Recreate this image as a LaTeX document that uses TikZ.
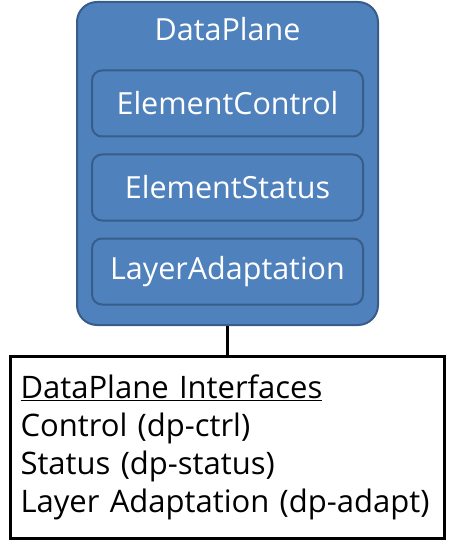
\documentclass[tikz,border=0pt]{standalone}
\usepackage{fontspec}
\setmainfont{Open Sans}
\usetikzlibrary{positioning}
\definecolor{dpfill}{HTML}{4F81BD}
\definecolor{dpline}{HTML}{385D8A}

\begin{document}
\begin{tikzpicture}[x=1pt,y=-1pt,
    outerbox/.style={draw=dpline, line width=2pt, fill=dpfill, rounded corners=20pt,
        minimum width=301pt, minimum height=323pt, inner sep=0pt},
    elembox/.style={draw=dpline, line width=2pt, fill=dpfill, rounded corners=10pt,
        minimum width=271pt, minimum height=66pt, text=white, font=\fontsize{30.5}{34}\selectfont},
    ifbox/.style={draw, line width=2.5pt, minimum width=434pt, minimum height=182pt,
        text width=414pt, inner xsep=10pt, align=left, font=\fontsize{31}{38}\selectfont}]
        \useasboundingbox (0,0) rectangle (452,545);

        \node[outerbox, label={[text=white, font=\fontsize{30.5}{34}\selectfont, anchor=north, yshift=-13pt]north:DataPlane}] (dp) at (227.5,163.5) {};

        \node[elembox] (ec) at (227.5,103.5) {ElementControl};
        \node[elembox, below=16pt of ec] (es) {ElementStatus};
        \node[elembox, below=16pt of es] (la) {LayerAdaptation};

        \node[ifbox, below=29pt of dp] (ifc) {\underline{DataPlane Interfaces}\\
            Control (dp-ctrl)\\
            Status (dp-status)\\
            Layer Adaptation (dp-adapt)};

        \draw[line width=2.5pt] (dp) -- (ifc);
\end{tikzpicture}
\end{document}
